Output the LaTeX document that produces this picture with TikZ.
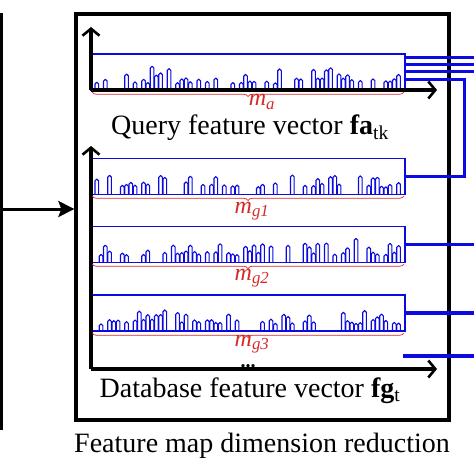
\documentclass[tikz,border=0pt]{standalone}
\usepackage{fontspec}
\setmainfont{Liberation Serif}
\usetikzlibrary{arrows.meta, calc, decorations.pathreplacing}

\definecolor{sigblue}{RGB}{10,10,225}
\definecolor{brred}{RGB}{215,40,40}

% narrow rounded bumps on a baseline, #1 = baseline y, #2 = seed
\newcommand{\bumps}[2]{%
  \pgfmathsetseed{#2}
  \foreach \k in {0,...,71}{
    \pgfmathsetmacro{\bx}{95+4.25*\k}
    \pgfmathsetmacro{\on}{rnd}
    \pgfmathsetmacro{\bh}{7+5*rnd+7*(rnd>0.72)+12*(rnd>0.92)}
    \ifdim\on pt>0.4pt
      \draw[peak] (\bx,#1) -- (\bx,#1-\bh) -- (\bx+3.6,#1-\bh) -- (\bx+3.6,#1);
    \fi
  }}

\begin{document}
\begin{tikzpicture}[x=1pt, y=-1pt,
    sigbox/.style={draw=sigblue, line width=1.4pt, minimum width=314pt,
      minimum height=36pt, inner sep=0pt},
    peak/.style={sigblue, line width=1.1pt, rounded corners=1.7pt},
    axis/.style={line width=3.3pt, -{Straight Barb[length=7pt,width=17pt,line width=2.6pt]}},
    link/.style={sigblue, line width=3.3pt},
    brc/.style={brred, line width=0.7pt, decorate,
      decoration={brace, mirror, amplitude=4.5pt}},
    lbl/.style={text=brred, font=\fontsize{24}{26}\selectfont\itshape},
    big/.style={font=\fontsize{28}{32}\selectfont}]

  \useasboundingbox (0,0) rectangle (474,474);

  \node[draw, line width=3.3pt, minimum width=373pt, minimum height=406pt,
    inner sep=0pt] (box) at (262.5,217) {};
  \draw[line width=3.3pt] (1.5,13) -- (1.5,430);
  \coordinate (in) at (1.5,209);
  \draw[line width=3pt, -{Stealth[length=16pt,width=16pt,inset=3pt]}]
    (in) -- (in -| box.west);

  % query feature vector
  \node[sigbox] (qa) at (248,72) {};
  \bumps{90}{7}
  \draw[axis] (91,90) -- (91,27);
  \draw[axis] (91,90) -- (437,90);
  \draw[brc] (92,92) -- (404,92);
  \node[lbl, inner sep=1pt] (ma) at (262,102) {m\textsubscript{a}};
  \node[big] (qt) at (250,128) {Query feature vector \textbf{fa}\textsubscript{tk}};

  % database feature vectors
  \node[sigbox] (g1) at (248,176.5) {};
  \node[sigbox] (g2) at (248,244.5) {};
  \node[sigbox] (g3) at (248,313) {};
  \bumps{194}{21}
  \bumps{262}{45}
  \bumps{331}{88}
  \draw[axis] (91,369) -- (91,146);
  \draw[axis] (91,369) -- (437,369);
  \draw[brc] (92,196) -- (404,196);
  \draw[brc] (92,264) -- (404,264);
  \draw[brc] (92,333) -- (404,333);
  \node[lbl, inner sep=1pt] (mg1) at (252,211) {m\textsubscript{g1}};
  \node[lbl, inner sep=1pt] (mg2) at (252,278) {m\textsubscript{g2}};
  \node[lbl, inner sep=0pt] (mg3) at (252,344) {m\textsubscript{g3}};
  \node[font=\fontsize{20}{20}\selectfont\bfseries, inner sep=0pt, anchor=base]
    (dots) at (248,367) {...};
  \node[big] (gt) at (250,391) {Database feature vector \textbf{fg}\textsubscript{t}};

  % outgoing lines
  \foreach \d in {4, 11, 18}
    \draw[link] ($(qa.north east)+(0,\d)$) -- ($(qa.north east)+(69,\d)$);
  \draw[link] ($(qa.north east)+(0,26)$) -| ($(g1.east)+(59,0)$) -- (g1.east);
  \coordinate (g2out) at (474,244.5);
  \coordinate (g3out) at (474,313);
  \coordinate (nx) at (403,356);
  \coordinate (nxout) at (474,356);
  \draw[link] (g2.east) -- (g2out);
  \draw[link] (g3.east) -- (g3out);
  \draw[link] (nx) -- (nxout);

  \node[big] (title) at (262,446) {Feature map dimension reduction};
\end{tikzpicture}
\end{document}
